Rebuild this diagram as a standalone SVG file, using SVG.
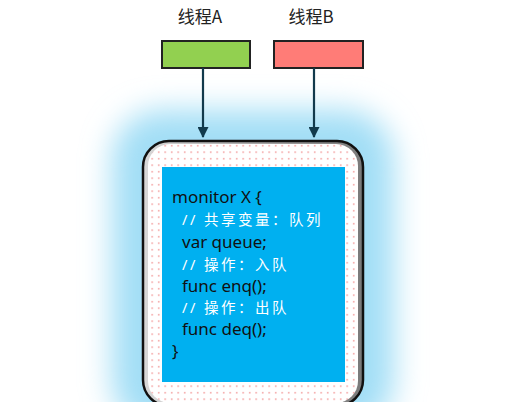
<svg xmlns="http://www.w3.org/2000/svg" width="520" height="402" viewBox="0 0 520 402">
<defs>
<style>
.lbl{font-family:"Noto Sans CJK SC","Noto Sans",sans-serif;font-size:17px;fill:#222;text-anchor:middle}
.code{font-family:"Noto Sans","Noto Sans CJK SC",sans-serif;font-size:17px;fill:#111}
.cmt{font-family:"Noto Sans","Noto Sans CJK SC",sans-serif;font-size:14.5px;fill:#fff;letter-spacing:2.5px}
.box{stroke:#222;stroke-width:2}
.conn{stroke:#123a4c;stroke-width:2.2;fill:none}
</style>
<marker id="ah" markerWidth="11" markerHeight="11" refX="10" refY="5.5" orient="auto" markerUnits="userSpaceOnUse">
<path d="M0,0 L11,5.5 L0,11 Z" fill="#123a4c"/>
</marker>
<pattern id="dots" width="6.5" height="6.5" patternUnits="userSpaceOnUse">
<rect width="6.5" height="6.5" fill="#fff"/>
<rect x="2" y="2" width="1.4" height="1.4" fill="#f28a8a"/>
</pattern>
<filter id="glow" x="-50%" y="-50%" width="200%" height="200%">
<feGaussianBlur stdDeviation="15"/>
</filter>
<linearGradient id="edge" x1="0" x2="1" y1="0" y2="0">
<stop offset="0" stop-color="#d8d8d8"/>
<stop offset="1" stop-color="#7a7a7a"/>
</linearGradient>
</defs>
<rect x="0" y="0" width="520" height="402" fill="#fff"/>
<g id="glow-bg">
<rect x="112" y="110" width="282" height="320" rx="50" fill="#a2def6" filter="url(#glow)"/>
</g>
<g id="labelA"><text class="lbl" x="200" y="23">线程A</text></g>
<g id="labelB"><text class="lbl" x="311" y="23">线程B</text></g>
<g id="threadA"><rect class="box" x="162" y="41" width="88" height="27" fill="#92d050"/></g>
<g id="threadB"><rect class="box" x="274" y="41" width="89" height="27" fill="#ff7c77"/></g>
<g id="monitor">
<rect x="143" y="141" width="220" height="265" rx="26" fill="url(#edge)" stroke="#111" stroke-width="2.5"/>
<rect x="148" y="144" width="210" height="259" rx="22" fill="url(#dots)"/>
<rect x="162" y="167" width="183" height="215" fill="#00b0f0"/>
<text class="code" x="172" y="203">monitor X {</text>
<text class="cmt" x="182" y="225">// 共享变量：队列</text>
<text class="code" x="182" y="248">var queue;</text>
<text class="cmt" x="182" y="270">// 操作：入队</text>
<text class="code" x="182" y="292">func enq();</text>
<text class="cmt" x="182" y="313">// 操作：出队</text>
<text class="code" x="182" y="335">func deq();</text>
<text class="code" x="172" y="357">}</text>
</g>
<g id="connectors">
<line class="conn" x1="203" y1="68" x2="203" y2="137" marker-end="url(#ah)"/>
<line class="conn" x1="314" y1="68" x2="314" y2="137" marker-end="url(#ah)"/>
</g>
</svg>
